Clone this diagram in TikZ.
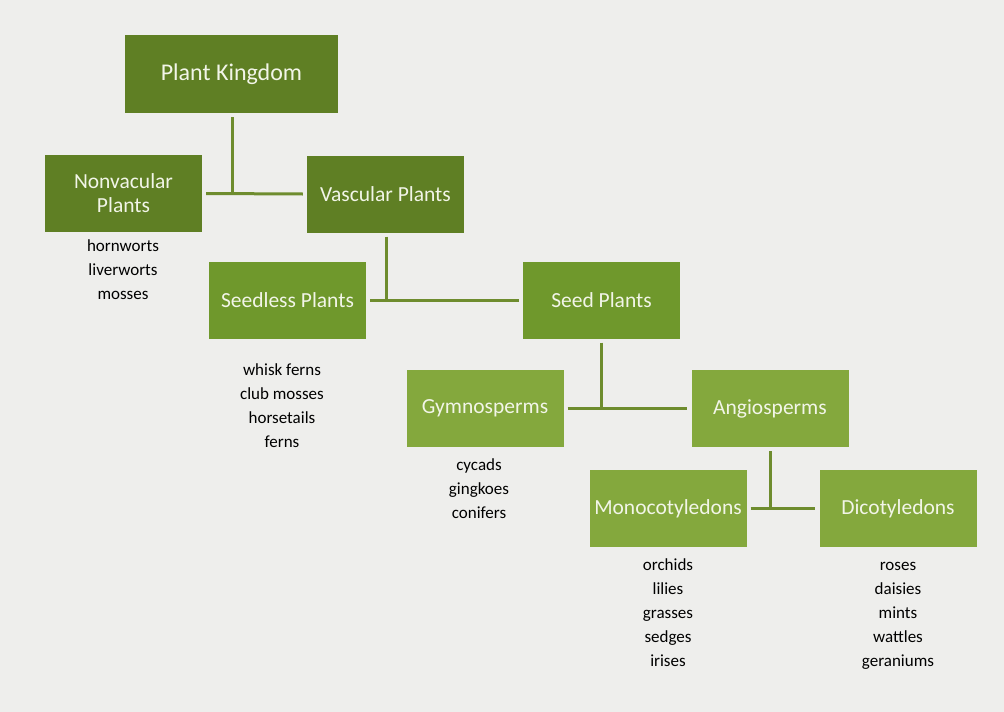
\documentclass[tikz,border=0pt]{standalone}
\usepackage{fontspec}
\setmainfont{Carlito}
\definecolor{bg}{HTML}{EEEEEC}
\definecolor{gdark}{HTML}{5F7F24}
\definecolor{gmid}{HTML}{6F982C}
\definecolor{glight}{HTML}{84A83D}
\definecolor{gline}{HTML}{6E8C2E}
\definecolor{txt}{HTML}{F2F5E8}
\tikzset{
  box/.style={rectangle, draw=none, minimum width=157pt, minimum height=77pt, inner sep=2pt,
    text=txt, font=\fontsize{21.5}{24}\selectfont, align=center},
  lvlA/.style={box, fill=gdark},
  lvlB/.style={box, fill=gmid},
  lvlC/.style={box, fill=glight},
  conn/.style={draw=gline, line width=3pt},
  items/.style={align=center, text=black, font=\fontsize{17}{24}\selectfont, anchor=north, inner sep=0pt}
}
\begin{document}
\begin{tikzpicture}[x=1pt,y=-1pt]
\fill[bg] (0,0) rectangle (1004,712);
\useasboundingbox (0,0) rectangle (1004,712);
\node[lvlA, minimum width=213pt, minimum height=78pt, font=\fontsize{24}{26}\selectfont] (pk) at (231.5,74) {Plant Kingdom};
\node[lvlA] (nv) at (123.5,193.5) {Nonvacular\\Plants};
\node[lvlA] (vp) at (385.5,194) {Vascular Plants};
\node[lvlB] (sl) at (287.5,300) {Seedless Plants};
\node[lvlB] (sp) at (601.5,300) {Seed Plants};
\node[lvlC] (gy) at (485,408.5) {Gymnosperms};
\node[lvlC] (an) at (770,408.5) {Angiosperms};
\node[lvlC] (mo) at (668,508.5) {Monocotyledons};
\node[lvlC] (di) at (898,508.5) {Dicotyledons};

\coordinate (j1) at (232,193);
\coordinate (j2) at (386,300);
\coordinate (j3) at (601,408.5);
\coordinate (j4) at (770,508.5);
\draw[conn] ([yshift=-4pt]pk.south -| j1) -- (j1);
\draw[conn] ([xshift=4pt]nv.east) -- ([xshift=-4pt]vp.west);
\draw[conn] ([yshift=-4pt]vp.south -| j2) -- (j2);
\draw[conn] ([xshift=4pt]sl.east) -- ([xshift=-4pt]sp.west);
\draw[conn] ([yshift=-4pt]sp.south -| j3) -- (j3);
\draw[conn] ([xshift=4pt]gy.east) -- ([xshift=-4pt]an.west);
\draw[conn] ([yshift=-4pt]an.south -| j4) -- (j4);
\draw[conn] ([xshift=4pt]mo.east) -- ([xshift=-4pt]di.west);

\node[items] (nvl) at (123,234) {\strut hornworts\\liverworts\\mosses};
\node[items] (sll) at (282,358) {\strut whisk ferns\\club mosses\\horsetails\\ferns};
\node[items] (gyl) at (479,453) {\strut cycads\\gingkoes\\conifers};
\node[items] (mol) at (668,553) {\strut orchids\\lilies\\grasses\\sedges\\irises};
\node[items] (dil) at (898,553) {\strut roses\\daisies\\mints\\wattles\\geraniums};
\end{tikzpicture}
\end{document}
